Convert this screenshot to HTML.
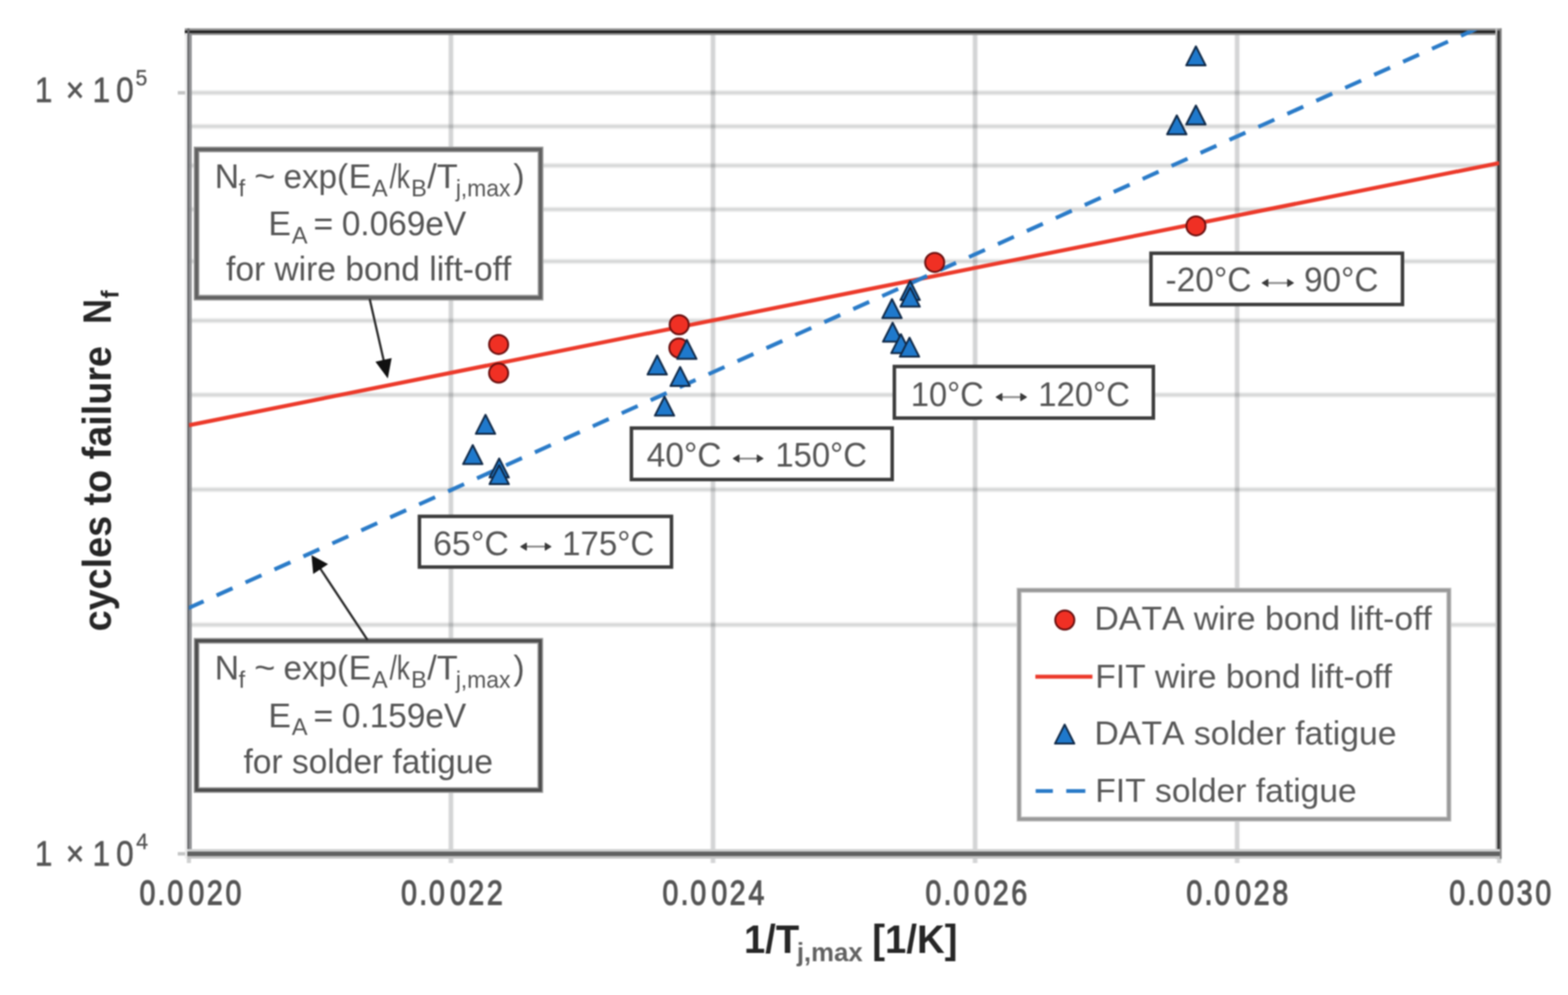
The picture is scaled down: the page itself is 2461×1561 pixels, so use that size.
<!DOCTYPE html>
<html><head><meta charset="utf-8"><title>cycles to failure vs 1/Tj,max</title>
<style>
html,body{margin:0;padding:0;background:#fff;width:2461px;height:1561px;overflow:hidden}
svg{display:block;filter:blur(1.0px)}
text{font-kerning:none;font-feature-settings:'kern' 0}
</style></head><body>
<svg width="2461" height="1561" viewBox="0 0 2461 1561">
<rect width="2461" height="1561" fill="#fff"/>
<line x1="296.5" y1="980.3" x2="2353.0" y2="980.3" stroke="#000" stroke-opacity="0.06" stroke-width="9"/>
<line x1="296.5" y1="980.3" x2="2353.0" y2="980.3" stroke="#1a2020" stroke-opacity="0.11" stroke-width="4.5"/>
<line x1="296.5" y1="768.0" x2="2353.0" y2="768.0" stroke="#000" stroke-opacity="0.06" stroke-width="9"/>
<line x1="296.5" y1="768.0" x2="2353.0" y2="768.0" stroke="#1a2020" stroke-opacity="0.11" stroke-width="4.5"/>
<line x1="296.5" y1="619.5" x2="2353.0" y2="619.5" stroke="#000" stroke-opacity="0.06" stroke-width="9"/>
<line x1="296.5" y1="619.5" x2="2353.0" y2="619.5" stroke="#1a2020" stroke-opacity="0.11" stroke-width="4.5"/>
<line x1="296.5" y1="503.0" x2="2353.0" y2="503.0" stroke="#000" stroke-opacity="0.06" stroke-width="9"/>
<line x1="296.5" y1="503.0" x2="2353.0" y2="503.0" stroke="#1a2020" stroke-opacity="0.11" stroke-width="4.5"/>
<line x1="296.5" y1="410.0" x2="2353.0" y2="410.0" stroke="#000" stroke-opacity="0.06" stroke-width="9"/>
<line x1="296.5" y1="410.0" x2="2353.0" y2="410.0" stroke="#1a2020" stroke-opacity="0.11" stroke-width="4.5"/>
<line x1="296.5" y1="328.6" x2="2353.0" y2="328.6" stroke="#000" stroke-opacity="0.06" stroke-width="9"/>
<line x1="296.5" y1="328.6" x2="2353.0" y2="328.6" stroke="#1a2020" stroke-opacity="0.11" stroke-width="4.5"/>
<line x1="296.5" y1="259.8" x2="2353.0" y2="259.8" stroke="#000" stroke-opacity="0.06" stroke-width="9"/>
<line x1="296.5" y1="259.8" x2="2353.0" y2="259.8" stroke="#1a2020" stroke-opacity="0.11" stroke-width="4.5"/>
<line x1="296.5" y1="198.3" x2="2353.0" y2="198.3" stroke="#000" stroke-opacity="0.06" stroke-width="9"/>
<line x1="296.5" y1="198.3" x2="2353.0" y2="198.3" stroke="#1a2020" stroke-opacity="0.11" stroke-width="4.5"/>
<line x1="296.5" y1="145.6" x2="2353.0" y2="145.6" stroke="#000" stroke-opacity="0.06" stroke-width="9"/>
<line x1="296.5" y1="145.6" x2="2353.0" y2="145.6" stroke="#1a2020" stroke-opacity="0.11" stroke-width="4.5"/>
<line x1="707.8" y1="49.7" x2="707.8" y2="1354" stroke="#000" stroke-opacity="0.04" stroke-width="10"/>
<line x1="707.8" y1="49.7" x2="707.8" y2="1354" stroke="#10181c" stroke-opacity="0.14" stroke-width="6.5"/>
<line x1="1119.1" y1="49.7" x2="1119.1" y2="1354" stroke="#000" stroke-opacity="0.04" stroke-width="10"/>
<line x1="1119.1" y1="49.7" x2="1119.1" y2="1354" stroke="#10181c" stroke-opacity="0.14" stroke-width="6.5"/>
<line x1="1530.4" y1="49.7" x2="1530.4" y2="1354" stroke="#000" stroke-opacity="0.04" stroke-width="10"/>
<line x1="1530.4" y1="49.7" x2="1530.4" y2="1354" stroke="#10181c" stroke-opacity="0.14" stroke-width="6.5"/>
<line x1="1941.7" y1="49.7" x2="1941.7" y2="1354" stroke="#000" stroke-opacity="0.04" stroke-width="10"/>
<line x1="1941.7" y1="49.7" x2="1941.7" y2="1354" stroke="#10181c" stroke-opacity="0.14" stroke-width="6.5"/>
<line x1="296.5" y1="1339.5" x2="296.5" y2="1354" stroke="#cfd0d0" stroke-width="6.5"/>
<line x1="2353.0" y1="1339.5" x2="2353.0" y2="1354" stroke="#cfd0d0" stroke-width="6.5"/>
<line x1="279" y1="1339.5" x2="296.5" y2="1339.5" stroke="#c4c5c5" stroke-width="5.5"/>
<line x1="279" y1="145.6" x2="296.5" y2="145.6" stroke="#c4c5c5" stroke-width="5.5"/>
<rect x="290" y="44.5" width="2067" height="10.5" fill="#8f8f8f"/>
<rect x="290" y="48" width="2064" height="3.8" fill="#202020"/>
<rect x="2347" y="44.5" width="3" height="1303" fill="#c0c0c0"/>
<rect x="2354" y="44.5" width="3" height="1303" fill="#878787"/>
<rect x="2350" y="48" width="4" height="1299" fill="#3a3a3a"/>
<rect x="290.5" y="52" width="3.5" height="1295" fill="#e9eaea"/>
<rect x="294" y="44.5" width="3.5" height="1300" fill="#67686b"/>
<rect x="297.5" y="52" width="3.5" height="1288" fill="#909194"/>
<rect x="294" y="1332" width="2060" height="4" fill="#cfd0d0"/>
<rect x="294" y="1343" width="2060" height="4" fill="#c2c2c2"/>
<rect x="294" y="1336" width="2060" height="7" fill="#606161"/>
<defs><clipPath id="pc"><rect x="296.5" y="47.7" width="2056.5" height="1291.8"/></clipPath></defs>
<line x1="296.5" y1="667.1" x2="2353.0" y2="255.8" stroke="#ec3a2b" stroke-width="6.2" clip-path="url(#pc)"/>
<line x1="294.5" y1="954.6" x2="2353.0" y2="29.1" stroke="#2a7bc8" stroke-width="6.2" stroke-dasharray="27.5 22.3" clip-path="url(#pc)"/>
<circle cx="782.6" cy="540.4" r="15" fill="#f03024" stroke="#6a1010" stroke-width="3"/>
<circle cx="782.6" cy="585.3" r="15" fill="#f03024" stroke="#6a1010" stroke-width="3"/>
<circle cx="1066" cy="509.5" r="15" fill="#f03024" stroke="#6a1010" stroke-width="3"/>
<circle cx="1065.5" cy="546" r="15" fill="#f03024" stroke="#6a1010" stroke-width="3"/>
<circle cx="1467" cy="411.7" r="15" fill="#f03024" stroke="#6a1010" stroke-width="3"/>
<circle cx="1877.1" cy="354.4" r="15" fill="#f03024" stroke="#6a1010" stroke-width="3"/>
<polygon points="1877.0,72.8 1892.2,102.6 1861.8,102.6" fill="#1f79cc" stroke="#112a48" stroke-width="3" stroke-linejoin="round"/>
<polygon points="1877.0,165.5 1892.2,195.3 1861.8,195.3" fill="#1f79cc" stroke="#112a48" stroke-width="3" stroke-linejoin="round"/>
<polygon points="1847.0,181.0 1862.2,210.8 1831.8,210.8" fill="#1f79cc" stroke="#112a48" stroke-width="3" stroke-linejoin="round"/>
<polygon points="1428.5,440.8 1443.7,470.6 1413.3,470.6" fill="#1f79cc" stroke="#112a48" stroke-width="3" stroke-linejoin="round"/>
<polygon points="1428.5,451.3 1443.7,481.1 1413.3,481.1" fill="#1f79cc" stroke="#112a48" stroke-width="3" stroke-linejoin="round"/>
<polygon points="1400.0,469.3 1415.2,499.1 1384.8,499.1" fill="#1f79cc" stroke="#112a48" stroke-width="3" stroke-linejoin="round"/>
<polygon points="1401.0,506.3 1416.2,536.1 1385.8,536.1" fill="#1f79cc" stroke="#112a48" stroke-width="3" stroke-linejoin="round"/>
<polygon points="1414.0,524.3 1429.2,554.1 1398.8,554.1" fill="#1f79cc" stroke="#112a48" stroke-width="3" stroke-linejoin="round"/>
<polygon points="1427.5,529.8 1442.7,559.6 1412.3,559.6" fill="#1f79cc" stroke="#112a48" stroke-width="3" stroke-linejoin="round"/>
<polygon points="1078.0,533.3 1093.2,563.1 1062.8,563.1" fill="#1f79cc" stroke="#112a48" stroke-width="3" stroke-linejoin="round"/>
<polygon points="1031.5,557.8 1046.7,587.6 1016.3,587.6" fill="#1f79cc" stroke="#112a48" stroke-width="3" stroke-linejoin="round"/>
<polygon points="1067.5,575.8 1082.7,605.6 1052.3,605.6" fill="#1f79cc" stroke="#112a48" stroke-width="3" stroke-linejoin="round"/>
<polygon points="1043.0,622.3 1058.2,652.1 1027.8,652.1" fill="#1f79cc" stroke="#112a48" stroke-width="3" stroke-linejoin="round"/>
<polygon points="762.0,650.8 777.2,680.6 746.8,680.6" fill="#1f79cc" stroke="#112a48" stroke-width="3" stroke-linejoin="round"/>
<polygon points="742.0,698.3 757.2,728.1 726.8,728.1" fill="#1f79cc" stroke="#112a48" stroke-width="3" stroke-linejoin="round"/>
<polygon points="783.5,719.3 798.7,749.1 768.3,749.1" fill="#1f79cc" stroke="#112a48" stroke-width="3" stroke-linejoin="round"/>
<polygon points="783.5,729.8 798.7,759.6 768.3,759.6" fill="#1f79cc" stroke="#112a48" stroke-width="3" stroke-linejoin="round"/>
<rect x="308.5" y="234.5" width="539.9" height="232.5" stroke="#9a9a9a" stroke-width="9" fill="#ffffff"/>
<rect x="308.5" y="234.5" width="539.9" height="232.5" stroke="#606060" stroke-width="5" fill="none"/>
<text x="337.05" y="295.30" font-family="Liberation Sans, Arial, Helvetica, sans-serif" font-size="53" fill="#555555">N</text>
<text x="374.48" y="307.80" font-family="Liberation Sans, Arial, Helvetica, sans-serif" font-size="37" fill="#555555">f</text>
<text x="398.95" y="295.30" font-family="Liberation Sans, Arial, Helvetica, sans-serif" font-size="53" fill="#555555" textLength="33.09" lengthAdjust="spacingAndGlyphs">~</text>
<text x="445.09" y="295.30" font-family="Liberation Sans, Arial, Helvetica, sans-serif" font-size="53" fill="#555555" textLength="101.22" lengthAdjust="spacingAndGlyphs">exp(</text>
<text x="547.15" y="295.30" font-family="Liberation Sans, Arial, Helvetica, sans-serif" font-size="53" fill="#555555">E</text>
<text x="583.73" y="307.80" font-family="Liberation Sans, Arial, Helvetica, sans-serif" font-size="37" fill="#555555">A</text>
<text x="611.40" y="295.30" font-family="Liberation Sans, Arial, Helvetica, sans-serif" font-size="53" fill="#555555" textLength="32.04" lengthAdjust="spacingAndGlyphs">/k</text>
<text x="645.16" y="307.80" font-family="Liberation Sans, Arial, Helvetica, sans-serif" font-size="37" fill="#555555">B</text>
<text x="670.50" y="295.30" font-family="Liberation Sans, Arial, Helvetica, sans-serif" font-size="53" fill="#555555" textLength="47.94" lengthAdjust="spacingAndGlyphs">/T</text>
<text x="715.38" y="307.80" font-family="Liberation Sans, Arial, Helvetica, sans-serif" font-size="37" fill="#555555" textLength="85.81" lengthAdjust="spacingAndGlyphs">j,max</text>
<text x="805.69" y="295.30" font-family="Liberation Sans, Arial, Helvetica, sans-serif" font-size="53" fill="#555555">)</text>
<text x="421.15" y="369.30" font-family="Liberation Sans, Arial, Helvetica, sans-serif" font-size="53" fill="#555555">E</text>
<text x="457.93" y="381.80" font-family="Liberation Sans, Arial, Helvetica, sans-serif" font-size="37" fill="#555555">A</text>
<text x="491.91" y="369.30" font-family="Liberation Sans, Arial, Helvetica, sans-serif" font-size="53" fill="#555555">=</text>
<text x="536.45" y="369.30" font-family="Liberation Sans, Arial, Helvetica, sans-serif" font-size="53" fill="#555555" textLength="195.28" lengthAdjust="spacingAndGlyphs">0.069eV</text>
<text x="354.75" y="440.40" font-family="Liberation Sans, Arial, Helvetica, sans-serif" font-size="53" fill="#555555" textLength="447.67" lengthAdjust="spacingAndGlyphs">for wire bond lift-off</text>
<rect x="308.5" y="1005.3" width="539.5" height="234.2" stroke="#9a9a9a" stroke-width="9" fill="#ffffff"/>
<rect x="308.5" y="1005.3" width="539.5" height="234.2" stroke="#4c4c4c" stroke-width="5" fill="none"/>
<text x="337.05" y="1066.00" font-family="Liberation Sans, Arial, Helvetica, sans-serif" font-size="53" fill="#555555">N</text>
<text x="374.48" y="1078.50" font-family="Liberation Sans, Arial, Helvetica, sans-serif" font-size="37" fill="#555555">f</text>
<text x="398.95" y="1066.00" font-family="Liberation Sans, Arial, Helvetica, sans-serif" font-size="53" fill="#555555" textLength="33.09" lengthAdjust="spacingAndGlyphs">~</text>
<text x="445.09" y="1066.00" font-family="Liberation Sans, Arial, Helvetica, sans-serif" font-size="53" fill="#555555" textLength="101.22" lengthAdjust="spacingAndGlyphs">exp(</text>
<text x="547.15" y="1066.00" font-family="Liberation Sans, Arial, Helvetica, sans-serif" font-size="53" fill="#555555">E</text>
<text x="583.73" y="1078.50" font-family="Liberation Sans, Arial, Helvetica, sans-serif" font-size="37" fill="#555555">A</text>
<text x="611.40" y="1066.00" font-family="Liberation Sans, Arial, Helvetica, sans-serif" font-size="53" fill="#555555" textLength="32.04" lengthAdjust="spacingAndGlyphs">/k</text>
<text x="645.16" y="1078.50" font-family="Liberation Sans, Arial, Helvetica, sans-serif" font-size="37" fill="#555555">B</text>
<text x="670.50" y="1066.00" font-family="Liberation Sans, Arial, Helvetica, sans-serif" font-size="53" fill="#555555" textLength="47.94" lengthAdjust="spacingAndGlyphs">/T</text>
<text x="715.38" y="1078.50" font-family="Liberation Sans, Arial, Helvetica, sans-serif" font-size="37" fill="#555555" textLength="85.81" lengthAdjust="spacingAndGlyphs">j,max</text>
<text x="805.69" y="1066.00" font-family="Liberation Sans, Arial, Helvetica, sans-serif" font-size="53" fill="#555555">)</text>
<text x="421.15" y="1140.50" font-family="Liberation Sans, Arial, Helvetica, sans-serif" font-size="53" fill="#555555">E</text>
<text x="457.93" y="1153.00" font-family="Liberation Sans, Arial, Helvetica, sans-serif" font-size="37" fill="#555555">A</text>
<text x="491.91" y="1140.50" font-family="Liberation Sans, Arial, Helvetica, sans-serif" font-size="53" fill="#555555">=</text>
<text x="536.45" y="1140.50" font-family="Liberation Sans, Arial, Helvetica, sans-serif" font-size="53" fill="#555555" textLength="195.28" lengthAdjust="spacingAndGlyphs">0.159eV</text>
<text x="382.26" y="1212.80" font-family="Liberation Sans, Arial, Helvetica, sans-serif" font-size="53" fill="#555555" textLength="391.58" lengthAdjust="spacingAndGlyphs">for solder fatigue</text>
<line x1="580.2" y1="469" x2="602.5" y2="566.5" stroke="#2a2a2a" stroke-width="3.5"/>
<polygon points="608.7,593.8 589.3,567.4 614.7,561.7" fill="#111"/>
<line x1="576.8" y1="1004" x2="502.1" y2="891.1" stroke="#2a2a2a" stroke-width="3.5"/>
<polygon points="488.9,871.1 514.9,885.1 491.6,900.5" fill="#111"/>
<rect x="1806.5" y="397.3" width="394.7" height="80.4" stroke="#3c3c3c" stroke-width="5.5" fill="#fff"/>
<text x="1829.37" y="456.70" font-family="Liberation Sans, Arial, Helvetica, sans-serif" font-size="53" fill="#555555" textLength="134.83" lengthAdjust="spacingAndGlyphs">-20°C</text>
<text x="2046.65" y="456.70" font-family="Liberation Sans, Arial, Helvetica, sans-serif" font-size="53" fill="#555555" textLength="116.84" lengthAdjust="spacingAndGlyphs">90°C</text>
<line x1="1987" y1="443.9" x2="2024" y2="443.9" stroke="#8a8a8a" stroke-width="3"/>
<polygon points="1981,443.9 1990,438.4 1990,449.4" fill="#3a3a3a" stroke="#3a3a3a" stroke-width="1.5" stroke-linejoin="round"/>
<polygon points="2030,443.9 2021,438.4 2021,449.4" fill="#3a3a3a" stroke="#3a3a3a" stroke-width="1.5" stroke-linejoin="round"/>
<rect x="1403.7" y="575" width="406.5" height="80.9" stroke="#3c3c3c" stroke-width="5.5" fill="#fff"/>
<text x="1429.60" y="636.70" font-family="Liberation Sans, Arial, Helvetica, sans-serif" font-size="53" fill="#555555" textLength="114.45" lengthAdjust="spacingAndGlyphs">10°C</text>
<text x="1629.58" y="636.70" font-family="Liberation Sans, Arial, Helvetica, sans-serif" font-size="53" fill="#555555" textLength="143.79" lengthAdjust="spacingAndGlyphs">120°C</text>
<line x1="1569.6" y1="623" x2="1605" y2="623" stroke="#8a8a8a" stroke-width="3"/>
<polygon points="1563.6,623 1572.6,617.5 1572.6,628.5" fill="#3a3a3a" stroke="#3a3a3a" stroke-width="1.5" stroke-linejoin="round"/>
<polygon points="1611,623 1602,617.5 1602,628.5" fill="#3a3a3a" stroke="#3a3a3a" stroke-width="1.5" stroke-linejoin="round"/>
<rect x="991" y="671.6" width="409.3" height="80.7" stroke="#3c3c3c" stroke-width="5.5" fill="#fff"/>
<text x="1015.00" y="732.20" font-family="Liberation Sans, Arial, Helvetica, sans-serif" font-size="53" fill="#555555" textLength="117.30" lengthAdjust="spacingAndGlyphs">40°C</text>
<text x="1216.88" y="732.20" font-family="Liberation Sans, Arial, Helvetica, sans-serif" font-size="53" fill="#555555" textLength="143.79" lengthAdjust="spacingAndGlyphs">150°C</text>
<line x1="1156.9" y1="719.4" x2="1191.5" y2="719.4" stroke="#8a8a8a" stroke-width="3"/>
<polygon points="1150.9,719.4 1159.9,713.9 1159.9,724.9" fill="#3a3a3a" stroke="#3a3a3a" stroke-width="1.5" stroke-linejoin="round"/>
<polygon points="1197.5,719.4 1188.5,713.9 1188.5,724.9" fill="#3a3a3a" stroke="#3a3a3a" stroke-width="1.5" stroke-linejoin="round"/>
<rect x="658.3" y="810.1" width="395.6" height="79.5" stroke="#3c3c3c" stroke-width="5.5" fill="#fff"/>
<text x="679.80" y="871.30" font-family="Liberation Sans, Arial, Helvetica, sans-serif" font-size="53" fill="#555555" textLength="118.83" lengthAdjust="spacingAndGlyphs">65°C</text>
<text x="882.25" y="871.30" font-family="Liberation Sans, Arial, Helvetica, sans-serif" font-size="53" fill="#555555" textLength="144.73" lengthAdjust="spacingAndGlyphs">175°C</text>
<line x1="823.2" y1="857.6" x2="858.7" y2="857.6" stroke="#8a8a8a" stroke-width="3"/>
<polygon points="817.2,857.6 826.2,852.1 826.2,863.1" fill="#3a3a3a" stroke="#3a3a3a" stroke-width="1.5" stroke-linejoin="round"/>
<polygon points="864.7,857.6 855.7,852.1 855.7,863.1" fill="#3a3a3a" stroke="#3a3a3a" stroke-width="1.5" stroke-linejoin="round"/>
<rect x="1599.5" y="926" width="674.5" height="359" stroke="#c8c8c8" stroke-width="8" fill="#fff"/>
<rect x="1599.5" y="926" width="674.5" height="359" stroke="#989898" stroke-width="5" fill="none"/>
<circle cx="1671.2" cy="972.8" r="15" fill="#f03024" stroke="#6a1010" stroke-width="3"/>
<line x1="1625" y1="1061.6" x2="1714.6" y2="1061.6" stroke="#ec3a2b" stroke-width="6.2"/>
<polygon points="1671.0,1136.8 1686.2,1166.6 1655.8,1166.6" fill="#1f79cc" stroke="#112a48" stroke-width="3" stroke-linejoin="round"/>
<line x1="1625.5" y1="1241" x2="1652.5" y2="1241" stroke="#2a7bc8" stroke-width="6"/>
<line x1="1673.5" y1="1241" x2="1703.5" y2="1241" stroke="#2a7bc8" stroke-width="6"/>
<text x="1717.86" y="988.00" font-family="Liberation Sans, Arial, Helvetica, sans-serif" font-size="52" fill="#585858" textLength="529.46" lengthAdjust="spacingAndGlyphs">DATA wire bond lift-off</text>
<text x="1719.08" y="1079.30" font-family="Liberation Sans, Arial, Helvetica, sans-serif" font-size="52" fill="#585858" textLength="465.65" lengthAdjust="spacingAndGlyphs">FIT wire bond lift-off</text>
<text x="1717.85" y="1167.80" font-family="Liberation Sans, Arial, Helvetica, sans-serif" font-size="52" fill="#585858" textLength="474.00" lengthAdjust="spacingAndGlyphs">DATA solder fatigue</text>
<text x="1719.07" y="1258.00" font-family="Liberation Sans, Arial, Helvetica, sans-serif" font-size="52" fill="#585858" textLength="410.27" lengthAdjust="spacingAndGlyphs">FIT solder fatigue</text>
<text transform="scale(0.9 1)" x="60.84 61.84 114.82 115.82 161.51 202.48" y="159.90" font-family="Liberation Sans, Arial, Helvetica, sans-serif" font-size="55" fill="#555555" stroke="#555" stroke-width="0.9">1 × 10</text>
<text transform="scale(0.95 1)" x="223.88" y="134.50" font-family="Liberation Sans, Arial, Helvetica, sans-serif" font-size="35" fill="#555555" stroke="#555" stroke-width="0.5">5</text>
<text transform="scale(0.9 1)" x="60.84 61.84 114.82 115.82 161.51 202.48" y="1357.70" font-family="Liberation Sans, Arial, Helvetica, sans-serif" font-size="55" fill="#555555" stroke="#555" stroke-width="0.9">1 × 10</text>
<text transform="scale(0.95 1)" x="225.12" y="1331.80" font-family="Liberation Sans, Arial, Helvetica, sans-serif" font-size="35" fill="#555555" stroke="#555" stroke-width="0.5">4</text>
<text transform="scale(0.82 1)" x="267.16 301.94 320.58 360.70 395.94 431.67" y="1419.00" font-family="Liberation Sans, Arial, Helvetica, sans-serif" font-size="54.5" fill="#555555" stroke="#555" stroke-width="1.8">0.0020</text>
<text transform="scale(0.82 1)" x="767.65 802.43 821.06 861.19 896.43 932.16" y="1419.00" font-family="Liberation Sans, Arial, Helvetica, sans-serif" font-size="54.5" fill="#555555" stroke="#555" stroke-width="1.8">0.0022</text>
<text transform="scale(0.82 1)" x="1268.02 1302.79 1321.43 1361.55 1396.80 1432.70" y="1419.00" font-family="Liberation Sans, Arial, Helvetica, sans-serif" font-size="54.5" fill="#555555" stroke="#555" stroke-width="1.8">0.0024</text>
<text transform="scale(0.82 1)" x="1771.43 1806.21 1824.84 1864.97 1900.21 1935.76" y="1419.00" font-family="Liberation Sans, Arial, Helvetica, sans-serif" font-size="54.5" fill="#555555" stroke="#555" stroke-width="1.8">0.0026</text>
<text transform="scale(0.82 1)" x="2270.82 2305.60 2324.24 2364.36 2399.60 2435.33" y="1419.00" font-family="Liberation Sans, Arial, Helvetica, sans-serif" font-size="54.5" fill="#555555" stroke="#555" stroke-width="1.8">0.0028</text>
<text transform="scale(0.82 1)" x="2774.11 2808.89 2827.53 2867.65 2903.05 2938.63" y="1419.00" font-family="Liberation Sans, Arial, Helvetica, sans-serif" font-size="54.5" fill="#555555" stroke="#555" stroke-width="1.8">0.0030</text>
<text x="1167.72" y="1494.80" font-family="Liberation Sans, Arial, Helvetica, sans-serif" font-size="63" font-weight="bold" fill="#262626" textLength="86.62" lengthAdjust="spacingAndGlyphs">1/T</text>
<text x="1250.63" y="1507.80" font-family="Liberation Sans, Arial, Helvetica, sans-serif" font-size="40" font-weight="bold" fill="#626262" textLength="103.36" lengthAdjust="spacingAndGlyphs">j,max</text>
<text x="1369.02" y="1494.80" font-family="Liberation Sans, Arial, Helvetica, sans-serif" font-size="63" font-weight="bold" fill="#262626" textLength="133.76" lengthAdjust="spacingAndGlyphs">[1/K]</text>
<text x="-990.51" y="173.50" font-family="Liberation Sans, Arial, Helvetica, sans-serif" font-size="63" font-weight="bold" fill="#262626" textLength="447.54" lengthAdjust="spacingAndGlyphs" transform="rotate(-90)">cycles to failure</text>
<text x="-508.11" y="173.50" font-family="Liberation Sans, Arial, Helvetica, sans-serif" font-size="63" font-weight="bold" fill="#262626" textLength="38.94" lengthAdjust="spacingAndGlyphs" transform="rotate(-90)">N</text>
<text x="-468.15" y="186.00" font-family="Liberation Sans, Arial, Helvetica, sans-serif" font-size="38" font-weight="bold" fill="#262626" transform="rotate(-90)">f</text>
</svg>
</body></html>
